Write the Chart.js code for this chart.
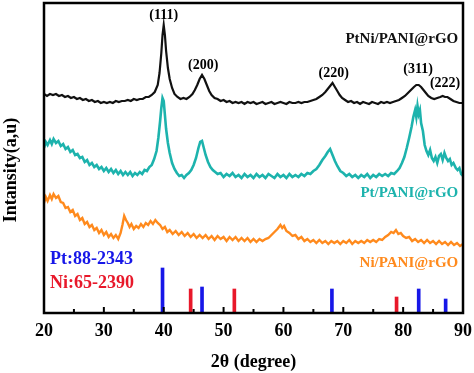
<!DOCTYPE html>
<html>
<head>
<meta charset="utf-8">
<script src="https://cdn.jsdelivr.net/npm/chart.js@4"></script>
<style>
  body { margin: 0; background: #fff; }
  canvas { display: block; }
</style>
</head>
<body>
<canvas id="myChart" width="474" height="373"></canvas>
<script>
// 2theta / intensity (a.u.) pairs
const ptniPts = [
  [20,219],[20.5,217],[21,219],[21.5,218],[22,219],[22.5,217],[23,218],[23.5,216],[24,217],[24.5,215],
  [25,216],[25.5,214],[26,215],[26.5,213],[27,214],[27.5,212],[28,213],[28.5,211],[29,212],[29.5,210],
  [30,211],[30.5,210],[31,211],[31.5,210],[32,212],[32.5,211],[33,212],[33.5,212],[34,213],[34.5,212],
  [35,214],[35.5,213],[36,214],[36.5,214],[37,216],[37.5,216],[38,218],[38.5,221],[39,228],[39.3,240],
  [39.6,260],[39.8,278],[40,288],[40.2,278],[40.4,262],[40.7,245],[41,234],[41.4,225],[41.8,219],[42.3,216],
  [42.8,214],[43.3,215],[43.8,214],[44.3,216],[44.8,219],[45.2,223],[45.6,228],[46,234],[46.4,238],[46.8,234],
  [47.2,228],[47.6,222],[48,218],[48.5,215],[49,214],[49.5,212],[50,213],[50.5,211],[51,212],[51.5,210],
  [52,211],[52.5,210],[53,211],[53.5,209],[54,211],[54.5,210],[55,211],[55.5,209],[56,210],[56.5,211],
  [57,209],[57.5,210],[58,211],[58.5,209],[59,210],[59.5,211],[60,210],[60.5,209],[61,211],[61.5,210],
  [62,210],[62.5,211],[63,210],[63.5,211],[64,211],[64.5,212],[65,213],[65.5,214],[66,216],[66.5,218],
  [67,221],[67.4,224],[67.8,227],[68.2,230],[68.6,226],[69,222],[69.4,218],[69.8,215],[70.3,213],[70.8,211],
  [71.3,212],[71.8,210],[72.3,211],[72.8,209],[73.3,211],[73.8,210],[74.3,209],[74.8,211],[75.3,210],[75.8,209],
  [76.3,211],[76.8,210],[77.3,211],[77.8,210],[78.3,211],[78.8,212],[79.3,213],[79.8,215],[80.3,217],[80.8,220],
  [81.3,223],[81.8,226],[82.2,228],[82.6,228],[83,226],[83.4,223],[83.8,220],[84.2,217],[84.7,215],[85.2,214],
  [85.7,215],[86.2,216],[86.6,217],[87,216],[87.4,216],[87.9,214],[88.4,212],[88.9,211],[89.4,210],[90,210]
];

const ptPts = [
  [20,165],[20.3,171],[20.6,168],[21,173],[21.3,169],[21.6,174],[22,170],[22.4,172],[22.8,167],[23.2,169],
  [23.6,164],[24,166],[24.4,161],[24.8,163],[25.2,158],[25.6,159],[26,155],[26.4,156],[26.8,151],[27.2,153],
  [27.6,148],[28,150],[28.4,146],[28.8,148],[29.2,144],[29.6,146],[30,142],[30.4,145],[30.8,141],[31.2,144],
  [31.6,140],[32,143],[32.4,139],[32.8,142],[33.2,138],[33.6,141],[34,138],[34.4,141],[34.8,137],[35.2,140],
  [35.6,138],[36,141],[36.4,139],[36.8,143],[37.2,142],[37.6,146],[38,148],[38.4,154],[38.8,162],[39.1,175],
  [39.4,192],[39.6,205],[39.8,215],[40,212],[40.2,198],[40.4,184],[40.7,170],[41,160],[41.4,150],[41.8,144],
  [42.2,140],[42.6,137],[43,138],[43.4,135],[43.8,138],[44.2,140],[44.6,143],[45,148],[45.4,155],[45.8,165],
  [46.1,171],[46.4,172],[46.7,165],[47,158],[47.4,151],[47.8,146],[48.2,143],[48.6,141],[49,139],[49.5,140],
  [50,136],[50.5,139],[51,137],[51.5,140],[52,136],[52.5,138],[53,135],[53.5,139],[54,136],[54.5,138],
  [55,135],[55.5,139],[56,136],[56.5,138],[57,135],[57.5,139],[58,137],[58.5,135],[59,139],[59.5,136],
  [60,138],[60.5,135],[61,139],[61.5,136],[62,138],[62.5,136],[63,139],[63.5,137],[64,140],[64.5,139],
  [65,142],[65.5,144],[66,148],[66.5,153],[67,157],[67.4,161],[67.8,164],[68.2,158],[68.6,152],[69,147],
  [69.5,142],[70,140],[70.5,137],[71,139],[71.5,136],[72,138],[72.5,135],[73,138],[73.5,136],[74,139],
  [74.5,135],[75,138],[75.5,136],[76,139],[76.5,137],[77,139],[77.5,137],[78,140],[78.5,139],[79,142],
  [79.4,145],[79.8,150],[80.2,156],[80.6,165],[81,175],[81.4,186],[81.7,196],[82,203],[82.2,196],[82.4,207],
  [82.6,199],[82.8,203],[83,190],[83.3,182],[83.6,168],[83.9,162],[84.2,158],[84.5,163],[84.8,155],[85.1,152],
  [85.4,156],[85.7,150],[86,157],[86.3,159],[86.6,153],[86.9,160],[87.2,155],[87.5,152],[87.8,154],[88.1,148],
  [88.4,150],[88.8,145],[89.1,143],[89.4,145],[89.7,139],[90,137]
];

const niPts = [
  [20,110],[20.3,116],[20.6,112],[21,118],[21.3,114],[21.6,119],[22,115],[22.4,117],[22.8,111],[23.2,110],
  [23.6,105],[24,106],[24.4,101],[24.8,103],[25.2,97],[25.6,99],[26,93],[26.4,95],[26.8,89],[27.2,91],
  [27.6,86],[28,88],[28.4,83],[28.8,85],[29.2,80],[29.6,83],[30,78],[30.4,81],[30.8,76],[31.2,79],
  [31.6,75],[32,78],[32.4,74],[32.8,80],[33.1,88],[33.4,97],[33.7,93],[34,90],[34.3,86],[34.6,89],
  [35,84],[35.4,87],[35.8,85],[36.2,89],[36.6,86],[37,90],[37.4,88],[37.8,92],[38.2,89],[38.6,93],
  [39,90],[39.4,88],[39.8,84],[40.2,86],[40.6,81],[41,83],[41.5,79],[42,82],[42.5,78],[43,81],
  [43.5,77],[44,80],[44.5,76],[45,79],[45.5,75],[46,78],[46.5,75],[47,78],[47.5,74],[48,77],
  [48.5,73],[49,77],[49.5,74],[50,76],[50.5,72],[51,76],[51.5,73],[52,76],[52.5,72],[53,75],
  [53.5,72],[54,75],[54.5,71],[55,74],[55.5,71],[56,74],[56.5,72],[57,74],[57.5,75],[58,78],
  [58.5,81],[59,84],[59.5,88],[59.8,85],[60.1,87],[60.5,82],[61,80],[61.5,77],[62,78],[62.5,74],
  [63,76],[63.5,72],[64,74],[64.5,71],[65,73],[65.5,70],[66,73],[66.5,70],[67,72],[67.5,69],
  [68,72],[68.5,70],[69,72],[69.5,69],[70,72],[70.5,70],[71,73],[71.5,69],[72,72],[72.5,70],
  [73,72],[73.5,70],[74,73],[74.5,71],[75,73],[75.5,71],[76,74],[76.5,73],[77,76],[77.5,78],
  [78,81],[78.4,80],[78.8,83],[79.2,79],[79.6,80],[80,77],[80.5,75],[81,76],[81.5,72],[82,74],
  [82.5,71],[83,73],[83.5,70],[84,73],[84.5,70],[85,72],[85.5,69],[86,72],[86.5,69],[87,71],
  [87.5,68],[88,71],[88.5,68],[89,70],[89.5,67],[90,69]
];

// reference card sticks
const ptCardPos = [39.8, 46.4, 68.1, 82.6, 87.1];
const ptCardInt = [45, 26, 24, 24, 14];
const niCardPos = [44.5, 51.8, 78.9];
const niCardInt = [24, 24, 16];

// peak labels
const hklText = ['(111)', '(200)', '(220)', '(311)', '(222)'];
const hklPos = [40.0, 46.6, 68.4, 82.5, 87.0];
const hklY = [298, 248, 240, 244, 230];

const sampleText = ['PtNi/PANI@rGO', 'Pt/PANI@rGO', 'Ni/PANI@rGO'];
const sampleY = [274, 120, 50];
const cardText = ['Pt:88-2343', 'Ni:65-2390'];
const cardY = [54, 30];

const BLACK = '#111111', CYAN = '#1db3ad', ORANGE = '#ff8a1d', BLUE = '#1717e8', RED = '#e8182a';
const SERIF = "'Liberation Serif', 'DejaVu Serif', serif";

const toXY = pts => pts.map(p => ({x: p[0], y: p[1]}));
const sticks = (pos, val) => pos.map((p, i) => ({x: p, y: val[i]}));

const decor = {
  id: 'decor',
  afterDraw(chart) {
    const {ctx, chartArea: a, scales: {x, y}} = chart;
    ctx.save();
    // inside ticks on bottom axis
    ctx.strokeStyle = '#000';
    ctx.lineWidth = 2;
    for (let v = 25; v < 90; v += 5) {
      const px = x.getPixelForValue(v);
      const len = v % 10 === 0 ? 6 : 4;
      ctx.beginPath();
      ctx.moveTo(px, a.bottom);
      ctx.lineTo(px, a.bottom - len);
      ctx.stroke();
    }
    // frame
    ctx.lineWidth = 2.5;
    ctx.strokeRect(a.left, a.top, a.right - a.left, a.bottom - a.top);

    ctx.font = 'bold 14px ' + SERIF;
    ctx.fillStyle = '#000';
    ctx.textAlign = 'center';
    ctx.textBaseline = 'middle';
    hklText.forEach((t, i) => ctx.fillText(t, x.getPixelForValue(hklPos[i]), y.getPixelForValue(hklY[i])));

    ctx.font = 'bold 15px ' + SERIF;
    ctx.textAlign = 'right';
    [BLACK, CYAN, ORANGE].forEach((c, i) => {
      ctx.fillStyle = c;
      ctx.fillText(sampleText[i], x.getPixelForValue(89.2), y.getPixelForValue(sampleY[i]));
    });

    ctx.font = 'bold 18px ' + SERIF;
    ctx.textAlign = 'left';
    [BLUE, RED].forEach((c, i) => {
      ctx.fillStyle = c;
      ctx.fillText(cardText[i], x.getPixelForValue(21), y.getPixelForValue(cardY[i]));
    });

    // axis titles
    ctx.fillStyle = '#000';
    ctx.textAlign = 'center';
    ctx.fillText('2\u03B8 (degree)', (a.left + a.right) / 2, 362);
    ctx.translate(11, 170);
    ctx.rotate(-Math.PI / 2);
    ctx.fillText('Intansity(a,u)', 0, 0);
    ctx.restore();
  }
};

const ctx = document.getElementById('myChart');
new Chart(ctx, {
  type: 'line',
  data: {
    datasets: [
      {label: 'PtNi/PANI@rGO', data: toXY(ptniPts), borderColor: BLACK, borderWidth: 2.2, pointRadius: 0},
      {label: 'Pt/PANI@rGO', data: toXY(ptPts), borderColor: CYAN, borderWidth: 2.6, pointRadius: 0},
      {label: 'Ni/PANI@rGO', data: toXY(niPts), borderColor: ORANGE, borderWidth: 2.4, pointRadius: 0},
      {type: 'bar', label: 'Pt:88-2343', data: sticks(ptCardPos, ptCardInt), backgroundColor: BLUE, barThickness: 3, grouped: false},
      {type: 'bar', label: 'Ni:65-2390', data: sticks(niCardPos, niCardInt), backgroundColor: RED, barThickness: 3, grouped: false}
    ]
  },
  options: {
    responsive: false,
    animation: false,
    layout: {padding: {top: 3, right: 11, left: 0, bottom: 0}},
    plugins: {legend: {display: false}, tooltip: {enabled: false}},
    scales: {
      x: {
        type: 'linear',
        min: 20, max: 90,
        offset: false,
        grid: {display: false},
        border: {display: false},
        ticks: {stepSize: 10, color: '#000', padding: 0, font: {family: SERIF, size: 18, weight: 'bold'}},
        afterFit: s => { s.height = 60; }
      },
      y: {
        min: 0, max: 310,
        grid: {display: false},
        border: {display: false},
        ticks: {display: false},
        afterFit: s => { s.width = 44; }
      }
    }
  },
  plugins: [decor]
});
</script>
</body>
</html>
